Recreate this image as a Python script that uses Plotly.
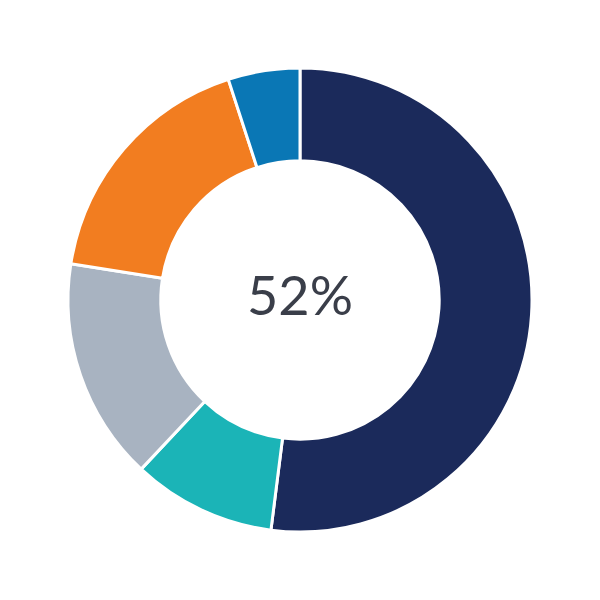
import plotly.graph_objects as go

labels = ["A", "B", "C", "D", "E"]
values = [52, 10, 15.5, 17.5, 5]
colors = ["#1B2A5B", "#1BB4B7", "#A8B3C1", "#F27D20", "#0A77B5"]
center_text = "52%"

fig = go.Figure(go.Pie(
    labels=labels, values=values, hole=0.6, sort=False,
    direction="clockwise", rotation=0,
    marker=dict(colors=colors, line=dict(color="white", width=3)),
    textinfo="none", hoverinfo="label+percent",
    domain=dict(x=[0, 1], y=[0, 1]),
))
fig.add_annotation(text=center_text, x=0.5, y=0.5, xref="paper", yref="paper",
                   showarrow=False, yshift=6,
                   font=dict(family="Lato", size=54, color="#3A3E49"))
fig.update_layout(width=600, height=600, showlegend=False,
                  margin=dict(l=60, r=76, t=60, b=76),
                  paper_bgcolor="white", plot_bgcolor="white")
fig.write_html("out.html", config={"displayModeBar": False})
